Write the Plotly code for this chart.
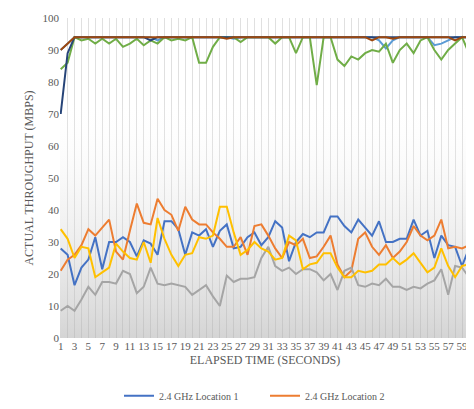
import plotly.graph_objects as go

seconds = list(range(1, 61))

ghz24_loc1 = [28, 26, 16.5, 22, 24.5, 31.5, 21.5, 30, 30, 31.5, 30, 25.5, 30.5, 29.5, 26, 36.5, 36.5, 34, 26, 33,
              32, 34, 28.5, 33.5, 35.5, 28, 28.5, 31.5, 33, 29, 31.5, 36.5, 34.5, 24, 30, 32.5, 31.5, 33, 33, 38,
              38, 35, 33, 37, 34.5, 32, 36.5, 30, 30, 31, 31, 37, 32, 33.5, 25, 32, 29, 28.5, 22.5, 28]
ghz24_loc2 = [21, 24.5, 26, 29, 34, 32, 34.5, 37, 27, 24.5, 33.5, 42, 36, 35.5, 43.5, 40, 38.5, 33.5, 41, 37,
              35.5, 35.5, 33, 31, 28.5, 28.5, 31.5, 26, 35, 35.5, 32, 28, 25, 30, 29, 31, 25, 25.5, 28.5, 32,
              23, 19, 21, 31, 33, 28.5, 26, 29, 25, 27, 30, 35, 32, 30.5, 32, 37, 28, 28.5, 28, 29]
ghz24_loc3 = [8.5, 10, 8.5, 12, 16, 13.5, 17.5, 17.5, 17, 21, 20, 14, 16, 22, 17, 16.5, 17, 16.5, 16, 13.5,
              15, 16.5, 13, 10, 19.5, 17.5, 18.5, 18.5, 19, 25, 28.5, 22.5, 21, 22, 20, 21.5, 21.5, 20.5, 18, 20,
              15, 21, 22, 16.5, 16, 17, 16.5, 18.5, 16, 16, 15, 16, 15.5, 17, 18, 21.5, 13.5, 22.5, 22, 19]
ghz24_loc4 = [34, 31, 25, 28.5, 28, 19, 20.5, 22, 29.5, 27, 25, 24.5, 30, 23.5, 37.5, 31, 26, 22.5, 26, 26.5,
              31.5, 31, 32, 41, 41, 33, 26, 27.5, 30, 28, 27, 24.5, 25, 32, 30.5, 21.5, 23, 23.5, 26.5, 26.5,
              22, 19, 19, 21, 20.5, 21, 23, 23, 25, 23, 24.5, 26.5, 23.5, 20.5, 22, 28, 22.5, 19, 22.5, 23]
ghz5_loc1 = [90, 92, 94, 94, 94, 94, 94, 94, 94, 94, 94, 94, 94, 94, 93, 94, 94, 94, 94, 94,
             94, 94, 94, 94, 94, 93.5, 94, 94, 94, 94, 94, 94, 94, 94, 94, 94, 94, 94, 94, 94,
             94, 94, 94, 94, 94, 94, 93, 90.5, 93, 94, 94, 94, 94, 94, 91.5, 92, 93, 94, 94, 94]
ghz5_loc2 = [84, 86, 94, 93, 93.5, 92, 93.5, 92, 93.5, 91, 92, 93.5, 91.5, 93, 92, 94, 93, 93.5, 93, 94,
             86, 86, 91, 94, 94, 94, 92.5, 94, 94, 94, 94, 92, 94, 94, 89, 94, 94, 79, 94, 94,
             87, 85, 88, 87, 89, 90, 89.5, 92, 86, 90, 92, 89, 93, 94, 90, 87, 90, 92, 94, 89]
ghz5_loc3 = [70, 89, 94, 94, 94, 94, 94, 94, 94, 94, 94, 94, 94, 93, 94, 94, 94, 94, 94, 94,
             94, 94, 94, 94, 94, 94, 94, 94, 94, 94, 94, 94, 94, 94, 94, 94, 94, 94, 94, 94,
             94, 94, 94, 94, 94, 94, 94, 94, 94, 94, 94, 94, 94, 94, 94, 94, 94, 94, 94, 94]
ghz5_loc4 = [90, 92, 94, 94, 94, 94, 94, 94, 94, 94, 94, 94, 94, 94, 94, 94, 94, 94, 94, 94,
             94, 94, 94, 94, 93.5, 94, 94, 94, 94, 94, 94, 94, 94, 94, 94, 94, 94, 94, 94, 94,
             94, 94, 94, 94, 94, 93, 94, 94, 93.5, 94, 94, 94, 94, 94, 94, 94, 94, 93, 94, 94]

series = [
    ('2.4 GHz Location 1', ghz24_loc1, '#4472C4'),
    ('2.4 GHz Location 2', ghz24_loc2, '#ED7D31'),
    ('2.4 GHz Location 3', ghz24_loc3, '#A5A5A5'),
    ('2.4 GHz Location 4', ghz24_loc4, '#FFC000'),
    ('5 GHz Location 1', ghz5_loc1, '#5B9BD5'),
    ('5 GHz Location 2', ghz5_loc2, '#70AD47'),
    ('5 GHz Location 3', ghz5_loc3, '#264478'),
    ('5 GHz Location 4', ghz5_loc4, '#9E480E'),
]

fig = go.Figure()

# fondo degradado (gris abajo, blanco arriba)
fig.add_trace(go.Scatter(
    x=[0.5, 60.5], y=[100, 100], mode='lines', line=dict(width=0),
    fill='tozeroy', showlegend=False, hoverinfo='skip',
    fillgradient=dict(type='vertical', colorscale=[
        [0, 'rgba(170,170,170,0.5)'], [0.45, 'rgba(220,220,220,0.25)'], [0.75, 'rgba(255,255,255,0)'],
        [1, 'rgba(255,255,255,0)']])
))

for name, vals, color in series:
    fig.add_trace(go.Scatter(x=seconds, y=vals, mode='lines', name=name,
                             line=dict(color=color, width=2)))

font = dict(family='Liberation Serif', color='#595959', size=11)

fig.update_layout(
    width=474, height=409,
    margin=dict(l=52, r=12, t=10, b=79, autoexpand=False),
    paper_bgcolor='white', plot_bgcolor='white',
    font=font,
    xaxis=dict(
        tickvals=seconds,
        ticktext=[str(s) if s % 2 else '' for s in seconds],
        range=[0.9, 60.15], showgrid=True, gridcolor='#e0e0e0', gridwidth=1,
        ticks='', zeroline=False, tickangle=0,
        title=dict(text='ELAPSED TIME (SECONDS)', standoff=4, font=dict(size=12)),
    ),
    yaxis=dict(
        range=[0, 100], dtick=10, showgrid=False, zeroline=False, ticks='',
        title=dict(text='ACTUAL THROUGHPUT (MBPS)', standoff=6, font=dict(size=12)),
    ),
    legend=dict(orientation='h', x=0.5, xanchor='center', y=-0.135, yanchor='top',
                entrywidth=101, entrywidthmode='pixels', font=dict(size=10),
                tracegroupgap=0, itemwidth=30),
)

fig.write_html("out.html")
